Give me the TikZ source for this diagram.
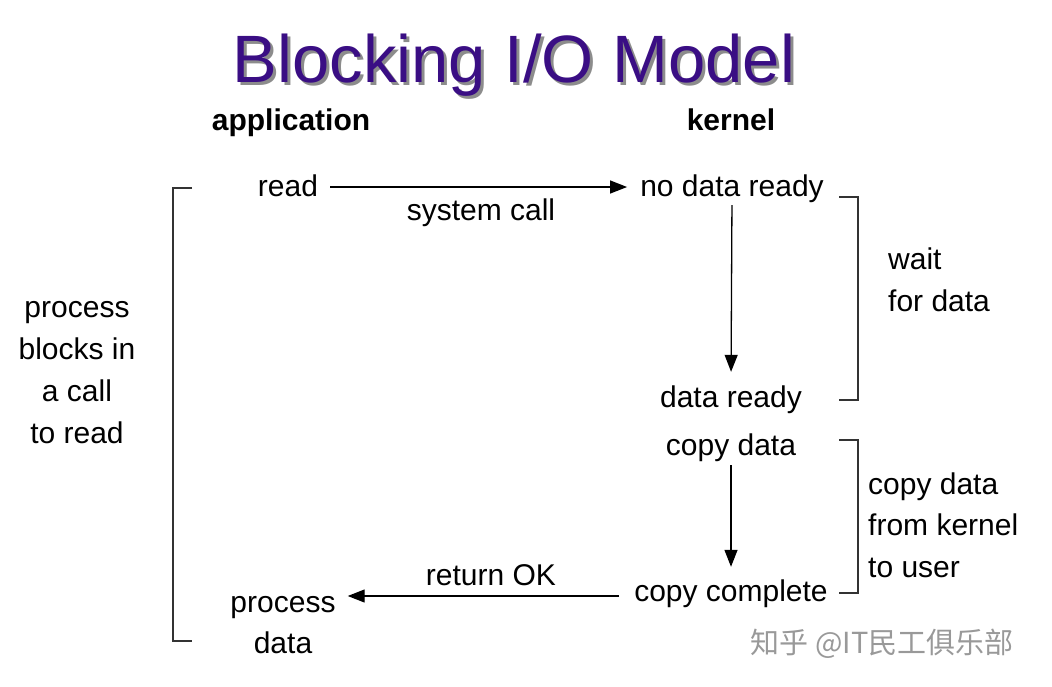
\documentclass[tikz,border=0pt]{standalone}
\usepackage{fontspec}
\setmainfont{Liberation Sans}
\newfontfamily\cjkfont{Noto Sans CJK SC}
\usepackage{tikz}
\usetikzlibrary{arrows.meta, positioning, calc}

\definecolor{titlepurple}{RGB}{58,14,132}

\begin{document}
\begin{tikzpicture}[x=1pt, y=-1pt,
    lbl/.style={inner sep=0pt, anchor=base, text height=22pt, text depth=0pt,
                font=\fontsize{30}{42}\selectfont},
    side/.style={inner sep=0pt, anchor=base, align=left,
                 font=\fontsize{30}{41.5}\selectfont},
    arrow/.style={-{Triangle[length=17pt, width=13pt]}, line width=1.3pt},
    bracket/.style={line width=1.2pt, black!80}]
    \useasboundingbox (0,0) rectangle (1052,686);

    % Title with its shadow
    \node[inner sep=0pt, anchor=base, text=black!45, font=\fontsize{67}{70}\selectfont]
        (title-shadow) at (517,85) {Blocking I/O Model};
    \node[inner sep=0pt, anchor=base, text=titlepurple, font=\fontsize{67}{70}\selectfont]
        (title) at (514,82) {Blocking I/O Model};

    % Column heads
    \node[lbl, font=\fontsize{30}{42}\selectfont\bfseries] (app) at (291,130) {application};
    \node[lbl, font=\fontsize{30}{42}\selectfont\bfseries] (kern) at (731,130) {kernel};

    % Application side (base of a two-line node is its last line)
    \node[lbl] (read) at (288,196) {read};
    \node[lbl] (syscall) at (481,220) {system call};
    \node[inner sep=0pt, anchor=base, align=center, font=\fontsize{30}{41}\selectfont]
        (process) at (283,653) {process\\data};
    \node[lbl] (retok) at (491,585) {return OK};

    % Kernel side
    \node[lbl] (nodata) at (732,196) {no data ready};
    \node[lbl] (dataready) at (731,407) {data ready};
    \node[lbl] (copydata) at (731,455) {copy data};
    \node[lbl] (complete) at (731,601) {copy complete};

    % Arrows between the steps
    \draw[arrow, shorten <=12pt, shorten >=13pt] ([yshift=-2pt]read.east) -- ([yshift=-2pt]nodata.west);
    \draw[arrow, shorten <=9pt, shorten >=13pt] (nodata.south) -- (dataready.north);
    \draw[arrow, shorten <=10pt, shorten >=12pt] (copydata.south) -- (complete.north);
    \draw[arrow, shorten <=15pt, shorten >=12pt] ([yshift=-6pt]complete.west)
        -- ([yshift=-6pt]complete.west -| process.east);

    % Brackets
    \draw[bracket] (192,188) -- (173,188) -- (173,641) -- (192,641);
    \draw[bracket] (839,197) -- (858,197) -- (858,400) -- (839,400);
    \draw[bracket] (839,440) -- (858,440) -- (858,593) -- (839,593);

    % Bracket texts
    \node[inner sep=0pt, anchor=base, align=center, font=\fontsize{30}{42}\selectfont]
        (blocks) at (77,443) {process\\blocks in\\a call\\to read};
    \node[side, anchor=base west] (wait) at (888,311) {wait\\for data};
    \node[side, anchor=base west] (copyuser) at (868,577) {copy data\\from kernel\\to user};

    % Watermark
    \node[inner sep=0pt, anchor=base, text=black!40, font=\cjkfont\fontsize{29}{32}\selectfont]
        (mark) at (882,653) {知乎 @IT民工俱乐部};
\end{tikzpicture}
\end{document}
